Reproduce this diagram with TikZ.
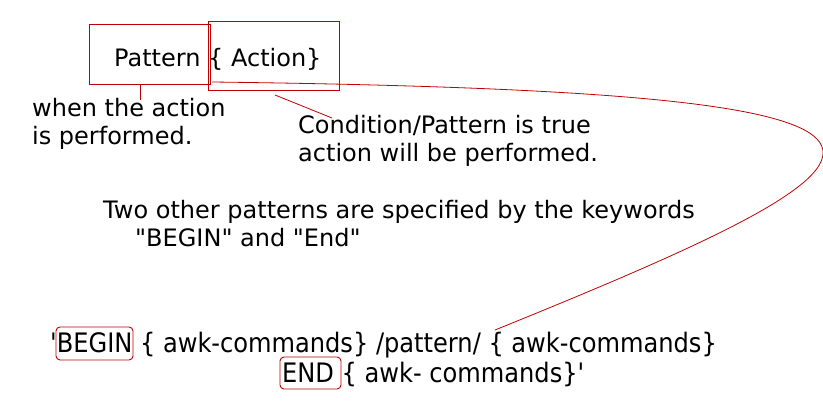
\documentclass[tikz,border=0pt]{standalone}
\usepackage{fontspec}
\setmainfont{DejaVu Sans}
\newfontfamily\condfont{DejaVu Sans Condensed}
\newfontfamily\plainfont{DejaVu Sans}
\begin{document}
\begin{tikzpicture}[x=1pt,y=-1pt]
		\tikzstyle{txt}=[anchor=base west,inner sep=0pt,font=\fontsize{24}{28}\selectfont]
		\tikzstyle{ctxt}=[anchor=base west,inner sep=0pt,font=\fontsize{26.8}{30}\selectfont\condfont]
		\tikzstyle{mark box}=[draw=red!75!black,line width=1pt]
		\tikzstyle{key box}=[draw=red!75!black,rounded corners=4pt,line width=0.9pt]
		\tikzstyle{callout}=[draw=red!75!black,line width=0.8pt]
		\useasboundingbox (0,0) rectangle (823,403);

			% Boxes round pattern and action
		\node[mark box,minimum width=121pt,minimum height=60pt] (patbox) at (149.5,55) {};
		\node[mark box,minimum width=131pt,minimum height=69pt] (actbox) at (273.5,56.5) {};
		\node[txt] (pattern) at (114,67) {Pattern \{ Action\}};

			% Notes
		\node[txt] (when) at (32,117) {when the action};
		\node[txt] (perf) at (32,145) {is performed.};
		\node[txt] (cond) at (298,134) {Condition/Pattern is true};
		\node[txt] (will) at (298,162) {action will be performed.};
		\node[txt] (two) at (103,219) {Two other patterns are specified by the keywords};
		\node[txt] (kw) at (135,247) {\plainfont "BEGIN" and "End"};

			% Bottom command
		\node[ctxt] (line1) at (50,353) {'BEGIN \{ awk-commands\} /pattern/ \{ awk-commands\}};
		\node[ctxt] (line2) at (282,383) {END \{ awk- commands\}'};
		\node[key box,minimum width=77pt,minimum height=33pt] (beginbox) at (94.5,343.5) {};
		\node[key box,minimum width=61pt,minimum height=32pt] (endbox) at (310.5,373) {};

			% Connectors
		\coordinate (whenTop) at (140,100);
		\coordinate (condTop) at (332,118);
		\coordinate (actLow) at (275,95);
		\coordinate (cmdTip) at (495,330);
		\draw[callout] (patbox.south -| whenTop) -- (whenTop);
		\draw[callout] (actLow) -- (condTop);
		\draw[callout] (212,82) .. controls (1010,92) and (940,150) .. (cmdTip);
\end{tikzpicture}
\end{document}
